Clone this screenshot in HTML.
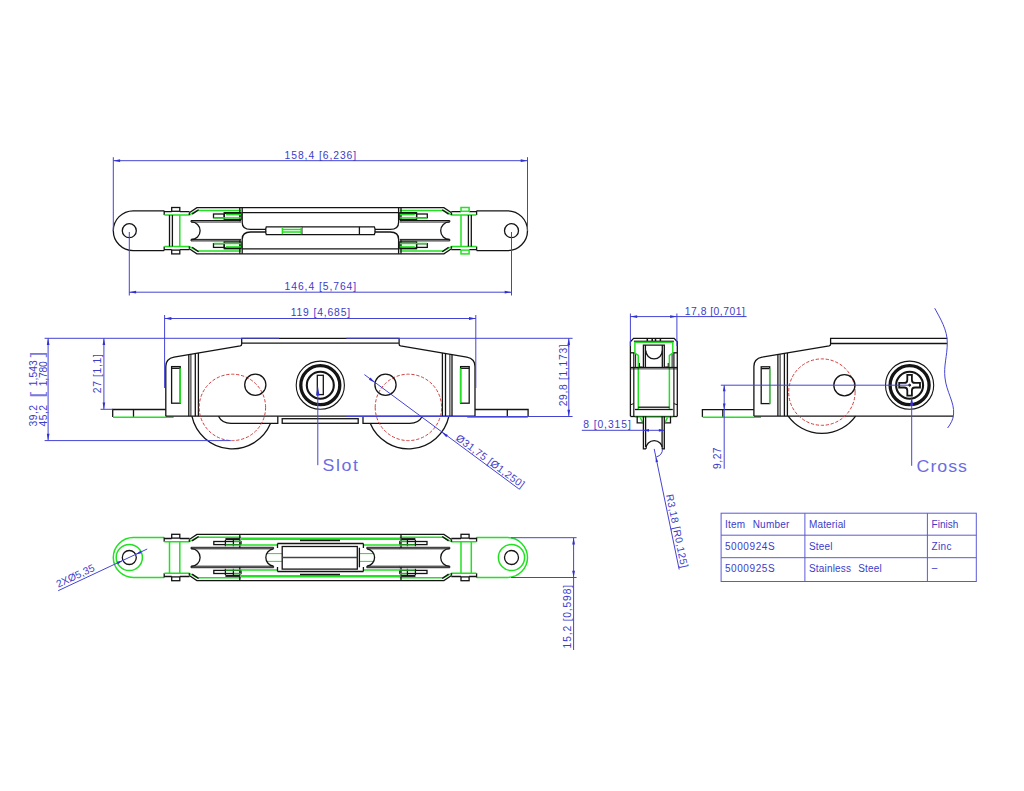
<!DOCTYPE html>
<html><head><meta charset="utf-8"><title>Drawing</title>
<style>
html,body{margin:0;padding:0;background:#fff;overflow:hidden;}
svg{display:block;}
text{font-family:"Liberation Sans",sans-serif;}
</style></head><body>
<svg width="1024" height="791" viewBox="0 0 1024 791">
<rect x="0" y="0" width="1024" height="791" fill="#ffffff"/>
<path d="M164.2,210.8 H133.2 A19.9,19.9 0 0 0 133.2,250.6 H164.2" stroke="#141414" stroke-width="1.3" fill="none" />
<circle cx="129.3" cy="230.7" r="7.0" stroke="#141414" stroke-width="1.3" fill="none" />
<path d="M164.2,210.8 V215.0 M164.2,211.7 H171.7 M179.8,211.7 H189.5" stroke="#141414" stroke-width="1.3" fill="none" />
<path d="M164.4,215.0 H189 L197.5,210.5 H241" stroke="#22e022" stroke-width="1.5" fill="none" />
<rect x="171.7" y="207.5" width="8.1" height="3.8" stroke="#141414" stroke-width="1.3" fill="none"/>
<path d="M189.3,212.7 L196.9,207.6 H321.00" stroke="#141414" stroke-width="1.3" fill="none" />
<path d="M192.2,214.1 L198.6,209.7" stroke="#141414" stroke-width="1.3" fill="none" />
<line x1="189.30" y1="212.70" x2="189.30" y2="215.00" stroke="#141414" stroke-width="1.3" />
<line x1="242.20" y1="212.60" x2="321.00" y2="212.60" stroke="#141414" stroke-width="1.3" />
<line x1="239.80" y1="207.60" x2="239.80" y2="221.20" stroke="#141414" stroke-width="1.3" />
<rect x="213.5" y="214.0" width="10.7" height="3.7" stroke="#141414" stroke-width="1.3" fill="none"/>
<rect x="224.2" y="212.7" width="16.8" height="6.7" stroke="#141414" stroke-width="1.3" fill="none"/>
<line x1="224.20" y1="213.20" x2="241.00" y2="213.20" stroke="#141414" stroke-width="1.8" />
<line x1="226.00" y1="214.50" x2="241.00" y2="214.50" stroke="#22e022" stroke-width="1.5" />
<line x1="213.80" y1="217.90" x2="241.00" y2="217.90" stroke="#22e022" stroke-width="1.5" />
<path d="M241.0,220.5 H191 V222.0 H241" stroke="#141414" stroke-width="1.0" fill="none" />
<path d="M164.2,250.6 V246.4 M164.2,249.7 H171.7 M179.8,249.7 H189.5" stroke="#141414" stroke-width="1.3" fill="none" />
<path d="M164.4,246.4 H189 L197.5,250.9 H241" stroke="#22e022" stroke-width="1.5" fill="none" />
<rect x="171.7" y="250.1" width="8.1" height="3.8" stroke="#141414" stroke-width="1.3" fill="none"/>
<path d="M189.3,248.7 L196.9,253.8 H321.00" stroke="#141414" stroke-width="1.3" fill="none" />
<path d="M192.2,247.3 L198.6,251.7" stroke="#141414" stroke-width="1.3" fill="none" />
<line x1="189.30" y1="248.70" x2="189.30" y2="246.40" stroke="#141414" stroke-width="1.3" />
<line x1="242.20" y1="248.80" x2="321.00" y2="248.80" stroke="#141414" stroke-width="1.3" />
<line x1="239.80" y1="253.80" x2="239.80" y2="240.20" stroke="#141414" stroke-width="1.3" />
<rect x="213.5" y="243.7" width="10.7" height="3.7" stroke="#141414" stroke-width="1.3" fill="none"/>
<rect x="224.2" y="242.0" width="16.8" height="6.7" stroke="#141414" stroke-width="1.3" fill="none"/>
<line x1="224.20" y1="248.20" x2="241.00" y2="248.20" stroke="#141414" stroke-width="1.8" />
<line x1="226.00" y1="246.90" x2="241.00" y2="246.90" stroke="#22e022" stroke-width="1.5" />
<line x1="213.80" y1="243.50" x2="241.00" y2="243.50" stroke="#22e022" stroke-width="1.5" />
<path d="M241.0,240.9 H191 V239.4 H241" stroke="#141414" stroke-width="1.0" fill="none" />
<line x1="169.50" y1="215.00" x2="169.50" y2="246.40" stroke="#141414" stroke-width="1.3" />
<line x1="172.40" y1="215.00" x2="172.40" y2="246.40" stroke="#141414" stroke-width="1.3" />
<line x1="179.80" y1="215.00" x2="179.80" y2="246.40" stroke="#22e022" stroke-width="1.5" />
<path d="M191.3,221.9 A8.8,8.8 0 0 1 191.3,239.5" stroke="#141414" stroke-width="1.3" fill="none" />
<g transform="translate(640.8,0) scale(-1,1)">
<path d="M164.2,210.8 H133.2 A19.9,19.9 0 0 0 133.2,250.6 H164.2" stroke="#141414" stroke-width="1.3" fill="none" />
<circle cx="129.3" cy="230.7" r="7.0" stroke="#141414" stroke-width="1.3" fill="none" />
<path d="M164.2,210.8 V215.0 M164.2,211.7 H171.7 M179.8,211.7 H189.5" stroke="#141414" stroke-width="1.3" fill="none" />
<path d="M164.4,215.0 H189 L197.5,210.5 H241" stroke="#22e022" stroke-width="1.5" fill="none" />
<rect x="171.7" y="207.5" width="8.1" height="3.8" stroke="#22e022" stroke-width="1.5" fill="none"/>
<path d="M189.3,212.7 L196.9,207.6 H319.80" stroke="#141414" stroke-width="1.3" fill="none" />
<path d="M192.2,214.1 L198.6,209.7" stroke="#141414" stroke-width="1.3" fill="none" />
<line x1="189.30" y1="212.70" x2="189.30" y2="215.00" stroke="#141414" stroke-width="1.3" />
<line x1="242.20" y1="212.60" x2="319.80" y2="212.60" stroke="#141414" stroke-width="1.3" />
<line x1="239.80" y1="207.60" x2="239.80" y2="221.20" stroke="#141414" stroke-width="1.3" />
<rect x="213.5" y="214.0" width="10.7" height="3.7" stroke="#141414" stroke-width="1.3" fill="none"/>
<rect x="224.2" y="212.7" width="16.8" height="6.7" stroke="#141414" stroke-width="1.3" fill="none"/>
<line x1="224.20" y1="213.20" x2="241.00" y2="213.20" stroke="#141414" stroke-width="1.8" />
<line x1="226.00" y1="214.50" x2="241.00" y2="214.50" stroke="#22e022" stroke-width="1.5" />
<line x1="213.80" y1="217.90" x2="241.00" y2="217.90" stroke="#22e022" stroke-width="1.5" />
<path d="M241.0,220.5 H191 V222.0 H241" stroke="#141414" stroke-width="1.0" fill="none" />
<path d="M164.2,250.6 V246.4 M164.2,249.7 H171.7 M179.8,249.7 H189.5" stroke="#141414" stroke-width="1.3" fill="none" />
<path d="M164.4,246.4 H189 L197.5,250.9 H241" stroke="#22e022" stroke-width="1.5" fill="none" />
<rect x="171.7" y="250.1" width="8.1" height="3.8" stroke="#22e022" stroke-width="1.5" fill="none"/>
<path d="M189.3,248.7 L196.9,253.8 H319.80" stroke="#141414" stroke-width="1.3" fill="none" />
<path d="M192.2,247.3 L198.6,251.7" stroke="#141414" stroke-width="1.3" fill="none" />
<line x1="189.30" y1="248.70" x2="189.30" y2="246.40" stroke="#141414" stroke-width="1.3" />
<line x1="242.20" y1="248.80" x2="319.80" y2="248.80" stroke="#141414" stroke-width="1.3" />
<line x1="239.80" y1="253.80" x2="239.80" y2="240.20" stroke="#141414" stroke-width="1.3" />
<rect x="213.5" y="243.7" width="10.7" height="3.7" stroke="#141414" stroke-width="1.3" fill="none"/>
<rect x="224.2" y="242.0" width="16.8" height="6.7" stroke="#141414" stroke-width="1.3" fill="none"/>
<line x1="224.20" y1="248.20" x2="241.00" y2="248.20" stroke="#141414" stroke-width="1.8" />
<line x1="226.00" y1="246.90" x2="241.00" y2="246.90" stroke="#22e022" stroke-width="1.5" />
<line x1="213.80" y1="243.50" x2="241.00" y2="243.50" stroke="#22e022" stroke-width="1.5" />
<path d="M241.0,240.9 H191 V239.4 H241" stroke="#141414" stroke-width="1.0" fill="none" />
<line x1="169.50" y1="215.00" x2="169.50" y2="246.40" stroke="#141414" stroke-width="1.3" />
<line x1="172.40" y1="215.00" x2="172.40" y2="246.40" stroke="#141414" stroke-width="1.3" />
<line x1="179.80" y1="215.00" x2="179.80" y2="246.40" stroke="#22e022" stroke-width="1.5" />
<path d="M191.3,221.9 A8.8,8.8 0 0 1 191.3,239.5" stroke="#141414" stroke-width="1.3" fill="none" />
</g>
<path d="M242.2,207.6 V222.2 Q242.2,229.4 250.5,229.4 H265.6 L266.3,226.8 H374.3 L375.2,229.4 H390.3 Q398.6,229.4 398.6,222.2 V207.6" stroke="#141414" stroke-width="1.3" fill="none" />
<path d="M242.2,253.8 V239.2 Q242.2,232.0 250.5,232.0 H265.6 L266.3,234.6 H374.3 L375.2,232.0 H390.3 Q398.6,232.0 398.6,239.2 V253.8" stroke="#141414" stroke-width="1.3" fill="none" />
<line x1="265.80" y1="229.40" x2="265.80" y2="232.00" stroke="#141414" stroke-width="1.3" />
<line x1="375.00" y1="229.40" x2="375.00" y2="232.00" stroke="#141414" stroke-width="1.3" />
<line x1="301.80" y1="226.80" x2="301.80" y2="234.60" stroke="#141414" stroke-width="1.3" />
<line x1="359.40" y1="226.80" x2="359.40" y2="234.60" stroke="#141414" stroke-width="1.3" />
<path d="M282.4,227.1 V234.3 M301.2,227.1 V234.3 M282.4,229.5 H301.2 M282.4,231.9 H301.2" stroke="#22e022" stroke-width="1.5" fill="none" />
<line x1="113.30" y1="157.20" x2="113.30" y2="231.00" stroke="#4444d4" stroke-width="1.0" />
<line x1="527.50" y1="157.20" x2="527.50" y2="231.00" stroke="#4444d4" stroke-width="1.0" />
<line x1="113.30" y1="160.70" x2="527.50" y2="160.70" stroke="#4444d4" stroke-width="1.0" />
<polygon points="113.3,160.7 120.1,159.3 120.1,162.0" fill="#3030d0"/>
<polygon points="527.5,160.7 520.7,162.0 520.7,159.3" fill="#3030d0"/>
<text transform="translate(284.6,158.8) rotate(0)" font-size="10.3" fill="#3c3cc8" text-anchor="start" textLength="71.5" lengthAdjust="spacing" >158,4 [6,236]</text>
<line x1="129.30" y1="232.00" x2="129.30" y2="295.50" stroke="#4444d4" stroke-width="1.0" />
<line x1="511.50" y1="232.00" x2="511.50" y2="295.50" stroke="#4444d4" stroke-width="1.0" />
<line x1="129.30" y1="292.20" x2="511.50" y2="292.20" stroke="#4444d4" stroke-width="1.0" />
<polygon points="129.3,292.2 136.1,290.8 136.1,293.6" fill="#3030d0"/>
<polygon points="511.5,292.2 504.7,293.6 504.7,290.8" fill="#3030d0"/>
<text transform="translate(284.6,289.7) rotate(0)" font-size="10.3" fill="#3c3cc8" text-anchor="start" textLength="71.5" lengthAdjust="spacing" >146,4 [5,764]</text>
<path d="M165.8,409.5 H112.7 V417 M133.5,409.5 V417" stroke="#141414" stroke-width="1.3" fill="none" />
<line x1="113.00" y1="417.20" x2="173.60" y2="417.20" stroke="#22e022" stroke-width="1.5" />
<path d="M165.8,416.2 V366.5 Q165.8,358.8 174,357.2 L240.3,345.9 Q241.7,345.5 241.7,344 V338.3 H321.00" stroke="#141414" stroke-width="1.3" fill="none" />
<line x1="242.00" y1="343.20" x2="321.00" y2="343.20" stroke="#141414" stroke-width="1.3" />
<rect x="171.6" y="366.6" width="8.6" height="36.6" stroke="#141414" stroke-width="1.3" fill="none"/>
<line x1="171.60" y1="368.30" x2="180.20" y2="368.30" stroke="#141414" stroke-width="1.3" />
<line x1="180.20" y1="368.30" x2="180.20" y2="403.20" stroke="#22e022" stroke-width="1.5" />
<line x1="188.80" y1="354.60" x2="188.80" y2="416.20" stroke="#141414" stroke-width="1.3" />
<line x1="190.90" y1="354.30" x2="190.90" y2="416.20" stroke="#141414" stroke-width="1.0" />
<line x1="195.30" y1="353.50" x2="195.30" y2="416.20" stroke="#141414" stroke-width="1.3" />
<line x1="198.40" y1="353.00" x2="198.40" y2="416.20" stroke="#141414" stroke-width="1.3" />
<line x1="165.80" y1="416.20" x2="321.00" y2="416.20" stroke="#141414" stroke-width="1.3" />
<path d="M218.5,416.2 Q222,423.3 231,423.3 H277.8 V416.2" stroke="#141414" stroke-width="1.3" fill="none" />
<path d="M191.9,416.2 A41.4,41.4 0 0 0 270.6,423.3" stroke="#141414" stroke-width="1.3" fill="none" />
<circle cx="232.4" cy="407.4" r="33.2" stroke="#d23c3c" stroke-width="1.0" fill="none" stroke-dasharray="3.2 1.8"/>
<circle cx="255.3" cy="384.8" r="10.6" stroke="#141414" stroke-width="1.3" fill="none" />
<g transform="translate(640.8,0) scale(-1,1)">
<path d="M165.8,409.5 H112.7 V417 M133.5,409.5 V417" stroke="#141414" stroke-width="1.3" fill="none" />
<line x1="113.00" y1="417.20" x2="173.60" y2="417.20" stroke="#22e022" stroke-width="1.5" />
<path d="M165.8,416.2 V366.5 Q165.8,358.8 174,357.2 L240.3,345.9 Q241.7,345.5 241.7,344 V338.3 H319.80" stroke="#141414" stroke-width="1.3" fill="none" />
<line x1="242.00" y1="343.20" x2="319.80" y2="343.20" stroke="#141414" stroke-width="1.3" />
<rect x="171.6" y="366.6" width="8.6" height="36.6" stroke="#141414" stroke-width="1.3" fill="none"/>
<line x1="171.60" y1="368.30" x2="180.20" y2="368.30" stroke="#141414" stroke-width="1.3" />
<line x1="180.20" y1="368.30" x2="180.20" y2="403.20" stroke="#22e022" stroke-width="1.5" />
<line x1="188.80" y1="354.60" x2="188.80" y2="416.20" stroke="#141414" stroke-width="1.3" />
<line x1="190.90" y1="354.30" x2="190.90" y2="416.20" stroke="#141414" stroke-width="1.0" />
<line x1="195.30" y1="353.50" x2="195.30" y2="416.20" stroke="#141414" stroke-width="1.3" />
<line x1="198.40" y1="353.00" x2="198.40" y2="416.20" stroke="#141414" stroke-width="1.3" />
<line x1="165.80" y1="416.20" x2="319.80" y2="416.20" stroke="#141414" stroke-width="1.3" />
<path d="M218.5,416.2 Q222,423.3 231,423.3 H277.8 V416.2" stroke="#141414" stroke-width="1.3" fill="none" />
<path d="M191.9,416.2 A41.4,41.4 0 0 0 270.6,423.3" stroke="#141414" stroke-width="1.3" fill="none" />
<circle cx="232.4" cy="407.4" r="33.2" stroke="#d23c3c" stroke-width="1.0" fill="none" stroke-dasharray="3.2 1.8"/>
<circle cx="255.3" cy="384.8" r="10.6" stroke="#141414" stroke-width="1.3" fill="none" />
</g>
<rect x="282.2" y="418.7" width="76.0" height="4.6" stroke="#141414" stroke-width="1.3" fill="none"/>
<circle cx="320.3" cy="385.2" r="24.1" stroke="#141414" stroke-width="1.1" fill="none" />
<circle cx="320.3" cy="385.2" r="19.5" stroke="#141414" stroke-width="3.3" fill="none" />
<circle cx="320.3" cy="385.2" r="13.5" stroke="#141414" stroke-width="2.1" fill="none" />
<rect x="317.3" y="375.3" width="6.0" height="19.3" stroke="#141414" stroke-width="1.3" fill="none"/>
<line x1="164.60" y1="315.00" x2="164.60" y2="388.00" stroke="#4444d4" stroke-width="1.0" />
<line x1="475.80" y1="315.00" x2="475.80" y2="388.00" stroke="#4444d4" stroke-width="1.0" />
<line x1="164.60" y1="318.50" x2="475.80" y2="318.50" stroke="#4444d4" stroke-width="1.0" />
<polygon points="164.6,318.5 171.4,317.1 171.4,319.9" fill="#3030d0"/>
<polygon points="475.8,318.5 469.0,319.9 469.0,317.1" fill="#3030d0"/>
<text transform="translate(290.7,316.4) rotate(0)" font-size="10.3" fill="#3c3cc8" text-anchor="start" textLength="59.5" lengthAdjust="spacing" >119 [4,685]</text>
<line x1="44.60" y1="338.30" x2="279.00" y2="338.30" stroke="#4444d4" stroke-width="1.0" />
<line x1="44.60" y1="440.60" x2="230.80" y2="440.60" stroke="#4444d4" stroke-width="1.0" />
<line x1="48.10" y1="338.30" x2="48.10" y2="440.60" stroke="#4444d4" stroke-width="1.0" />
<polygon points="48.1,338.3 49.5,345.1 46.8,345.1" fill="#3030d0"/>
<polygon points="48.1,440.6 46.8,433.8 49.5,433.8" fill="#3030d0"/>
<line x1="103.90" y1="338.30" x2="103.90" y2="409.30" stroke="#4444d4" stroke-width="1.0" />
<polygon points="103.9,338.3 105.2,345.1 102.6,345.1" fill="#3030d0"/>
<polygon points="103.9,409.3 102.6,402.5 105.2,402.5" fill="#3030d0"/>
<line x1="100.50" y1="409.30" x2="112.70" y2="409.30" stroke="#4444d4" stroke-width="1.0" />
<text transform="translate(100.9,393.2) rotate(-90)" font-size="10.3" fill="#3c3cc8" text-anchor="start" textLength="39.0" lengthAdjust="spacing" >27 [1,1]</text>
<text transform="translate(36.9,426.4) rotate(-90)" font-size="10.3" fill="#3c3cc8" text-anchor="start" textLength="21.3" lengthAdjust="spacing" >39,2</text>
<text transform="translate(46.9,426.4) rotate(-90)" font-size="10.3" fill="#3c3cc8" text-anchor="start" textLength="21.3" lengthAdjust="spacing" >45,2</text>
<text transform="translate(36.9,386.2) rotate(-90)" font-size="10.3" fill="#3c3cc8" text-anchor="start" textLength="26.0" lengthAdjust="spacing" >1,543</text>
<text transform="translate(46.9,386.2) rotate(-90)" font-size="10.3" fill="#3c3cc8" text-anchor="start" textLength="25.0" lengthAdjust="spacing" >1,780</text>
<text transform="translate(43.4,397.8) rotate(-90) scale(1.2,1)" font-size="18" fill="#7878e0">[</text>
<text transform="translate(43.4,357.6) rotate(-90) scale(1.2,1)" font-size="18" fill="#7878e0">]</text>
<line x1="346.30" y1="338.30" x2="572.60" y2="338.30" stroke="#4444d4" stroke-width="1.0" />
<line x1="346.30" y1="416.50" x2="572.60" y2="416.50" stroke="#4444d4" stroke-width="1.0" />
<line x1="568.80" y1="338.30" x2="568.80" y2="416.50" stroke="#4444d4" stroke-width="1.0" />
<polygon points="568.8,338.3 570.1,345.1 567.4,345.1" fill="#3030d0"/>
<polygon points="568.8,416.5 567.4,409.7 570.1,409.7" fill="#3030d0"/>
<text transform="translate(566.8,406.3) rotate(-90)" font-size="10.3" fill="#3c3cc8" text-anchor="start" textLength="62.0" lengthAdjust="spacing" >29,8 [1,173]</text>
<line x1="317.80" y1="392.00" x2="317.80" y2="465.20" stroke="#4444d4" stroke-width="1.0" />
<polygon points="317.8,385.6 319.5,395.6 316.1,395.6" fill="#3030d0"/>
<text transform="translate(322.6,470.8) scale(1.14,1)" font-size="15.6" fill="#6c6ce2" textLength="31.1" lengthAdjust="spacing">Slot</text>
<line x1="364.40" y1="374.60" x2="518.20" y2="488.40" stroke="#4444d4" stroke-width="1.0" />
<polygon points="375.1,382.8 368.9,379.8 370.5,377.6" fill="#3030d0"/>
<polygon points="441.7,432.0 447.9,435.0 446.3,437.2" fill="#3030d0"/>
<text transform="translate(454.9,439.4) rotate(36.5)" font-size="10.3" fill="#3c3cc8" text-anchor="start" textLength="82.5" lengthAdjust="spacing" >Ø31,75 [Ø1,250]</text>
<path d="M654.00,338.3 H633.6 L630.4,341.7 V416.2" stroke="#141414" stroke-width="1.3" fill="none" />
<path d="M647.3,338.3 V341.4 M652.2,338.3 V341.4" stroke="#141414" stroke-width="1.5" fill="none" />
<line x1="633.90" y1="341.40" x2="654.00" y2="341.40" stroke="#141414" stroke-width="1.5" />
<line x1="633.80" y1="353.00" x2="633.80" y2="416.20" stroke="#141414" stroke-width="1.2" />
<line x1="635.60" y1="353.00" x2="635.60" y2="367.40" stroke="#141414" stroke-width="1.0" />
<path d="M630.4,352.8 H635 " stroke="#141414" stroke-width="1.3" fill="none" />
<path d="M630.4,404.8 L633.8,403.6" stroke="#141414" stroke-width="1.0" fill="none" />
<path d="M654.00,342.2 H634.9 V353 L638.3,355.4 V409" stroke="#22e022" stroke-width="1.5" fill="none" />
<path d="M639.5,363 V367 H642.5" stroke="#141414" stroke-width="1.0" fill="none" />
<path d="M654.00,345.1 H643.4 V367.4 M645.4,345.1 V367.4" stroke="#141414" stroke-width="1.3" fill="none" />
<line x1="630.40" y1="367.50" x2="654.00" y2="367.50" stroke="#141414" stroke-width="1.3" />
<line x1="630.40" y1="368.90" x2="654.00" y2="368.90" stroke="#141414" stroke-width="0.8" />
<line x1="638.30" y1="407.20" x2="654.00" y2="407.20" stroke="#141414" stroke-width="1.3" />
<line x1="634.90" y1="409.50" x2="654.00" y2="409.50" stroke="#141414" stroke-width="1.3" />
<line x1="630.40" y1="416.50" x2="654.00" y2="416.50" stroke="#141414" stroke-width="1.3" />
<line x1="634.90" y1="417.10" x2="654.00" y2="417.10" stroke="#22e022" stroke-width="1.0" />
<path d="M637.2,416.2 V422.8 H643.4" stroke="#141414" stroke-width="1.3" fill="none" />
<line x1="640.20" y1="417.50" x2="642.60" y2="422.30" stroke="#22e022" stroke-width="1.5" />
<path d="M643.4,416.2 V448.9 H646 M645.6,416.2 V447" stroke="#141414" stroke-width="1.3" fill="none" />
<g transform="translate(1307.70,0) scale(-1,1)">
<path d="M653.70,338.3 H633.6 L630.4,341.7 V416.2" stroke="#141414" stroke-width="1.3" fill="none" />
<path d="M647.3,338.3 V341.4 M652.2,338.3 V341.4" stroke="#141414" stroke-width="1.5" fill="none" />
<line x1="633.90" y1="341.40" x2="653.70" y2="341.40" stroke="#141414" stroke-width="1.5" />
<line x1="633.80" y1="353.00" x2="633.80" y2="416.20" stroke="#141414" stroke-width="1.2" />
<line x1="635.60" y1="353.00" x2="635.60" y2="367.40" stroke="#141414" stroke-width="1.0" />
<path d="M630.4,352.8 H635 " stroke="#141414" stroke-width="1.3" fill="none" />
<path d="M630.4,404.8 L633.8,403.6" stroke="#141414" stroke-width="1.0" fill="none" />
<path d="M653.70,342.2 H634.9 V353 L638.3,355.4 V409" stroke="#22e022" stroke-width="1.5" fill="none" />
<path d="M639.5,363 V367 H642.5" stroke="#141414" stroke-width="1.0" fill="none" />
<path d="M653.70,345.1 H643.4 V367.4 M645.4,345.1 V367.4" stroke="#141414" stroke-width="1.3" fill="none" />
<line x1="630.40" y1="367.50" x2="653.70" y2="367.50" stroke="#141414" stroke-width="1.3" />
<line x1="630.40" y1="368.90" x2="653.70" y2="368.90" stroke="#141414" stroke-width="0.8" />
<line x1="638.30" y1="407.20" x2="653.70" y2="407.20" stroke="#141414" stroke-width="1.3" />
<line x1="634.90" y1="409.50" x2="653.70" y2="409.50" stroke="#141414" stroke-width="1.3" />
<line x1="630.40" y1="416.50" x2="653.70" y2="416.50" stroke="#141414" stroke-width="1.3" />
<line x1="634.90" y1="417.10" x2="653.70" y2="417.10" stroke="#22e022" stroke-width="1.0" />
<path d="M637.2,416.2 V422.8 H643.4" stroke="#141414" stroke-width="1.3" fill="none" />
<line x1="640.20" y1="417.50" x2="642.60" y2="422.30" stroke="#22e022" stroke-width="1.5" />
<path d="M643.4,416.2 V448.9 H646 M645.6,416.2 V447" stroke="#141414" stroke-width="1.3" fill="none" />
</g>
<path d="M645.8,350.6 A8.3,8.3 0 0 0 662.4,350.6" stroke="#141414" stroke-width="1.3" fill="none" />
<path d="M645.9,448.9 A8.3,8.3 0 0 1 662.5,448.9" stroke="#141414" stroke-width="1.3" fill="none" />
<line x1="630.40" y1="313.50" x2="630.40" y2="346.00" stroke="#4444d4" stroke-width="1.0" />
<line x1="676.90" y1="313.50" x2="676.90" y2="346.00" stroke="#4444d4" stroke-width="1.0" />
<line x1="630.40" y1="316.60" x2="746.60" y2="316.60" stroke="#4444d4" stroke-width="1.0" />
<polygon points="630.4,316.6 637.2,315.2 637.2,318.0" fill="#3030d0"/>
<polygon points="676.9,316.6 670.1,318.0 670.1,315.2" fill="#3030d0"/>
<text transform="translate(684.8,314.7) rotate(0)" font-size="10.3" fill="#3c3cc8" text-anchor="start" textLength="60.0" lengthAdjust="spacing" >17,8 [0,701]</text>
<line x1="581.80" y1="430.30" x2="664.40" y2="430.30" stroke="#4444d4" stroke-width="1.0" />
<polygon points="643.5,430.3 649.0,428.9 649.0,431.7" fill="#3030d0"/>
<polygon points="664.4,430.3 658.9,431.7 658.9,428.9" fill="#3030d0"/>
<text transform="translate(583.2,428.4) rotate(0)" font-size="10.3" fill="#3c3cc8" text-anchor="start" textLength="47.6" lengthAdjust="spacing" >8 [0,315]</text>
<line x1="654.20" y1="448.90" x2="679.20" y2="569.50" stroke="#4444d4" stroke-width="1.0" />
<path d="M662.5,448.9 A8.3,8.3 0 0 1 656.3,456.9" stroke="#4444d4" stroke-width="1.0" fill="none" />
<polygon points="655.9,457.0 658.2,461.7 655.6,462.2" fill="#3030d0"/>
<text transform="translate(666.0,494.9) rotate(78.3)" font-size="10.3" fill="#3c3cc8" text-anchor="start" textLength="75.0" lengthAdjust="spacing" >R3,18 [R0,125]</text>
<path d="M753.9,409.6 H702.4 V416.9 M722.8,409.6 V416.9" stroke="#141414" stroke-width="1.3" fill="none" />
<line x1="702.60" y1="417.20" x2="761.00" y2="417.20" stroke="#22e022" stroke-width="1.5" />
<path d="M753.9,416.1 V366.5 Q753.9,358.8 762.1,357.2 L829.2,345.9 Q830.6,345.5 830.6,344 V338.3 H947.3" stroke="#141414" stroke-width="1.3" fill="none" />
<line x1="831.00" y1="343.50" x2="947.00" y2="343.50" stroke="#141414" stroke-width="1.3" />
<line x1="753.90" y1="416.10" x2="953.40" y2="416.10" stroke="#141414" stroke-width="1.3" />
<rect x="761.2" y="366.8" width="8.5" height="36.8" stroke="#141414" stroke-width="1.3" fill="none"/>
<line x1="761.20" y1="368.60" x2="769.70" y2="368.60" stroke="#141414" stroke-width="1.3" />
<line x1="769.70" y1="368.60" x2="769.70" y2="403.60" stroke="#22e022" stroke-width="1.5" />
<line x1="777.90" y1="354.60" x2="777.90" y2="416.10" stroke="#141414" stroke-width="1.3" />
<line x1="780.10" y1="354.30" x2="780.10" y2="416.10" stroke="#141414" stroke-width="1.0" />
<line x1="784.40" y1="353.50" x2="784.40" y2="416.10" stroke="#141414" stroke-width="1.3" />
<line x1="787.40" y1="353.00" x2="787.40" y2="416.10" stroke="#141414" stroke-width="1.3" />
<path d="M788.2,416.1 A41.4,41.4 0 0 0 855.6,416.1" stroke="#141414" stroke-width="1.3" fill="none" />
<circle cx="821.9" cy="392.1" r="33.2" stroke="#d23c3c" stroke-width="1.0" fill="none" stroke-dasharray="3.2 1.8"/>
<circle cx="844.4" cy="385.2" r="10.6" stroke="#141414" stroke-width="1.3" fill="none" />
<circle cx="909.6" cy="385.2" r="24.1" stroke="#141414" stroke-width="1.1" fill="none" />
<circle cx="909.6" cy="385.2" r="19.5" stroke="#141414" stroke-width="3.3" fill="none" />
<circle cx="909.6" cy="385.2" r="13.5" stroke="#141414" stroke-width="2.1" fill="none" />
<path d="M907.3000000000001,374.8 H911.9 V379.9 Q911.9,382.9 914.9,382.9 H920.0 V387.5 H914.9 Q911.9,387.5 911.9,390.5 V395.59999999999997 H907.3000000000001 V390.5 Q907.3000000000001,387.5 904.3000000000001,387.5 H899.2 V382.9 H904.3000000000001 Q907.3000000000001,382.9 907.3000000000001,379.9 Z" stroke="#141414" stroke-width="1.8" fill="none" />
<circle cx="909.6" cy="385.2" r="1.0" stroke="#141414" stroke-width="1.0" fill="#141414" />
<path d="M934.7,308.2 C940,318 947.5,330 947.3,343 C947.2,356 943.5,366 945,378 C946.5,392 954.5,402 953.6,414 C953.2,420 950.5,424 947.6,428" stroke="#4444d4" stroke-width="1.0" fill="none" />
<line x1="720.80" y1="385.20" x2="909.60" y2="385.20" stroke="#4444d4" stroke-width="1.0" />
<line x1="724.20" y1="385.20" x2="724.20" y2="468.80" stroke="#4444d4" stroke-width="1.0" />
<polygon points="724.2,385.2 725.6,391.2 722.9,391.2" fill="#3030d0"/>
<polygon points="724.2,409.6 722.9,403.6 725.6,403.6" fill="#3030d0"/>
<text transform="translate(721.4,468.9) rotate(-90)" font-size="10.3" fill="#3c3cc8" text-anchor="start" textLength="21.5" lengthAdjust="spacing" >9,27</text>
<line x1="911.70" y1="404.00" x2="911.70" y2="465.80" stroke="#4444d4" stroke-width="1.0" />
<polygon points="911.7,396.6 913.4,406.1 910.0,406.1" fill="#3030d0"/>
<text transform="translate(916.6,471.6) scale(1.14,1)" font-size="15.6" fill="#6c6ce2" textLength="44.2" lengthAdjust="spacing">Cross</text>
<path d="M164.2,537.6 H133.2 A19.9,19.9 0 0 0 133.2,577.4 H164.2" stroke="#22e022" stroke-width="1.5" fill="none" />
<circle cx="129.3" cy="557.5" r="7.0" stroke="#141414" stroke-width="1.3" fill="none" />
<circle cx="129.3" cy="557.5" r="13.1" stroke="#22e022" stroke-width="1.5" fill="none" />
<path d="M164.2,537.6 V541.8 M164.2,538.5 H171.7 M179.8,538.5 H189.5" stroke="#141414" stroke-width="1.3" fill="none" />
<path d="M164.4,541.8 H189 L197.5,537.3 H241" stroke="#22e022" stroke-width="1.5" fill="none" />
<rect x="171.7" y="534.3" width="8.1" height="3.8" stroke="#141414" stroke-width="1.3" fill="none"/>
<path d="M189.3,539.5 L196.9,534.4 H321.00" stroke="#141414" stroke-width="1.3" fill="none" />
<path d="M192.2,540.9 L198.6,536.5" stroke="#141414" stroke-width="1.3" fill="none" />
<line x1="189.30" y1="539.50" x2="189.30" y2="541.80" stroke="#141414" stroke-width="1.3" />
<line x1="242.20" y1="539.40" x2="321.00" y2="539.40" stroke="#141414" stroke-width="1.3" />
<line x1="239.80" y1="534.40" x2="239.80" y2="548.00" stroke="#141414" stroke-width="1.3" />
<rect x="213.8" y="541.5" width="27.2" height="3.1" stroke="#141414" stroke-width="1.3" fill="none"/>
<line x1="225.40" y1="539.90" x2="225.40" y2="546.20" stroke="#141414" stroke-width="1.3" />
<line x1="233.40" y1="539.90" x2="233.40" y2="546.20" stroke="#141414" stroke-width="1.3" />
<line x1="225.40" y1="539.10" x2="239.50" y2="539.10" stroke="#141414" stroke-width="2.0" />
<line x1="225.60" y1="545.00" x2="241.00" y2="545.00" stroke="#22e022" stroke-width="1.2" />
<line x1="241.00" y1="541.20" x2="234.00" y2="541.20" stroke="#22e022" stroke-width="1.2" />
<path d="M241.0,547.3 H191 V548.8 H241" stroke="#141414" stroke-width="1.0" fill="none" />
<path d="M164.2,577.4 V573.2 M164.2,576.5 H171.7 M179.8,576.5 H189.5" stroke="#141414" stroke-width="1.3" fill="none" />
<path d="M164.4,573.2 H189 L197.5,577.7 H241" stroke="#22e022" stroke-width="1.5" fill="none" />
<rect x="171.7" y="576.9" width="8.1" height="3.8" stroke="#141414" stroke-width="1.3" fill="none"/>
<path d="M189.3,575.5 L196.9,580.6 H321.00" stroke="#141414" stroke-width="1.3" fill="none" />
<path d="M192.2,574.1 L198.6,578.5" stroke="#141414" stroke-width="1.3" fill="none" />
<line x1="189.30" y1="575.50" x2="189.30" y2="573.20" stroke="#141414" stroke-width="1.3" />
<line x1="242.20" y1="575.60" x2="321.00" y2="575.60" stroke="#141414" stroke-width="1.3" />
<line x1="239.80" y1="580.60" x2="239.80" y2="567.00" stroke="#141414" stroke-width="1.3" />
<rect x="213.8" y="570.4" width="27.2" height="3.1" stroke="#141414" stroke-width="1.3" fill="none"/>
<line x1="225.40" y1="575.10" x2="225.40" y2="568.80" stroke="#141414" stroke-width="1.3" />
<line x1="233.40" y1="575.10" x2="233.40" y2="568.80" stroke="#141414" stroke-width="1.3" />
<line x1="225.40" y1="575.90" x2="239.50" y2="575.90" stroke="#141414" stroke-width="2.0" />
<line x1="225.60" y1="570.00" x2="241.00" y2="570.00" stroke="#22e022" stroke-width="1.2" />
<line x1="241.00" y1="573.80" x2="234.00" y2="573.80" stroke="#22e022" stroke-width="1.2" />
<path d="M241.0,567.7 H191 V566.2 H241" stroke="#141414" stroke-width="1.0" fill="none" />
<line x1="169.50" y1="541.80" x2="169.50" y2="573.20" stroke="#22e022" stroke-width="1.5" />
<line x1="179.80" y1="541.80" x2="179.80" y2="573.20" stroke="#22e022" stroke-width="1.5" />
<path d="M191.3,548.7 A8.8,8.8 0 0 1 191.3,566.3" stroke="#141414" stroke-width="1.3" fill="none" />
<g transform="translate(640.8,0) scale(-1,1)">
<path d="M164.2,537.6 H133.2 A19.9,19.9 0 0 0 133.2,577.4 H164.2" stroke="#22e022" stroke-width="1.5" fill="none" />
<circle cx="129.3" cy="557.5" r="7.0" stroke="#141414" stroke-width="1.3" fill="none" />
<circle cx="129.3" cy="557.5" r="13.1" stroke="#22e022" stroke-width="1.5" fill="none" />
<path d="M164.2,537.6 V541.8 M164.2,538.5 H171.7 M179.8,538.5 H189.5" stroke="#141414" stroke-width="1.3" fill="none" />
<path d="M164.4,541.8 H189 L197.5,537.3 H241" stroke="#22e022" stroke-width="1.5" fill="none" />
<rect x="171.7" y="534.3" width="8.1" height="3.8" stroke="#141414" stroke-width="1.3" fill="none"/>
<path d="M189.3,539.5 L196.9,534.4 H319.80" stroke="#141414" stroke-width="1.3" fill="none" />
<path d="M192.2,540.9 L198.6,536.5" stroke="#141414" stroke-width="1.3" fill="none" />
<line x1="189.30" y1="539.50" x2="189.30" y2="541.80" stroke="#141414" stroke-width="1.3" />
<line x1="242.20" y1="539.40" x2="319.80" y2="539.40" stroke="#141414" stroke-width="1.3" />
<line x1="239.80" y1="534.40" x2="239.80" y2="548.00" stroke="#141414" stroke-width="1.3" />
<rect x="213.8" y="541.5" width="27.2" height="3.1" stroke="#141414" stroke-width="1.3" fill="none"/>
<line x1="225.40" y1="539.90" x2="225.40" y2="546.20" stroke="#141414" stroke-width="1.3" />
<line x1="233.40" y1="539.90" x2="233.40" y2="546.20" stroke="#141414" stroke-width="1.3" />
<line x1="225.40" y1="539.10" x2="239.50" y2="539.10" stroke="#141414" stroke-width="2.0" />
<line x1="225.60" y1="545.00" x2="241.00" y2="545.00" stroke="#22e022" stroke-width="1.2" />
<line x1="241.00" y1="541.20" x2="234.00" y2="541.20" stroke="#22e022" stroke-width="1.2" />
<path d="M241.0,547.3 H191 V548.8 H241" stroke="#141414" stroke-width="1.0" fill="none" />
<path d="M164.2,577.4 V573.2 M164.2,576.5 H171.7 M179.8,576.5 H189.5" stroke="#141414" stroke-width="1.3" fill="none" />
<path d="M164.4,573.2 H189 L197.5,577.7 H241" stroke="#22e022" stroke-width="1.5" fill="none" />
<rect x="171.7" y="576.9" width="8.1" height="3.8" stroke="#141414" stroke-width="1.3" fill="none"/>
<path d="M189.3,575.5 L196.9,580.6 H319.80" stroke="#141414" stroke-width="1.3" fill="none" />
<path d="M192.2,574.1 L198.6,578.5" stroke="#141414" stroke-width="1.3" fill="none" />
<line x1="189.30" y1="575.50" x2="189.30" y2="573.20" stroke="#141414" stroke-width="1.3" />
<line x1="242.20" y1="575.60" x2="319.80" y2="575.60" stroke="#141414" stroke-width="1.3" />
<line x1="239.80" y1="580.60" x2="239.80" y2="567.00" stroke="#141414" stroke-width="1.3" />
<rect x="213.8" y="570.4" width="27.2" height="3.1" stroke="#141414" stroke-width="1.3" fill="none"/>
<line x1="225.40" y1="575.10" x2="225.40" y2="568.80" stroke="#141414" stroke-width="1.3" />
<line x1="233.40" y1="575.10" x2="233.40" y2="568.80" stroke="#141414" stroke-width="1.3" />
<line x1="225.40" y1="575.90" x2="239.50" y2="575.90" stroke="#141414" stroke-width="2.0" />
<line x1="225.60" y1="570.00" x2="241.00" y2="570.00" stroke="#22e022" stroke-width="1.2" />
<line x1="241.00" y1="573.80" x2="234.00" y2="573.80" stroke="#22e022" stroke-width="1.2" />
<path d="M241.0,567.7 H191 V566.2 H241" stroke="#141414" stroke-width="1.0" fill="none" />
<line x1="169.50" y1="541.80" x2="169.50" y2="573.20" stroke="#22e022" stroke-width="1.5" />
<line x1="179.80" y1="541.80" x2="179.80" y2="573.20" stroke="#22e022" stroke-width="1.5" />
<path d="M191.3,548.7 A8.8,8.8 0 0 1 191.3,566.3" stroke="#141414" stroke-width="1.3" fill="none" />
</g>
<line x1="241.00" y1="538.80" x2="400.00" y2="538.80" stroke="#22e022" stroke-width="2.6" />
<line x1="300.00" y1="540.50" x2="340.00" y2="540.50" stroke="#141414" stroke-width="1.3" />
<line x1="241.00" y1="544.90" x2="277.50" y2="544.90" stroke="#22e022" stroke-width="1.5" />
<line x1="363.40" y1="544.90" x2="400.00" y2="544.90" stroke="#22e022" stroke-width="1.5" />
<line x1="266.50" y1="553.60" x2="282.20" y2="553.60" stroke="#22e022" stroke-width="1.0" />
<line x1="359.00" y1="553.60" x2="374.00" y2="553.60" stroke="#22e022" stroke-width="1.0" />
<line x1="277.50" y1="543.50" x2="363.40" y2="543.50" stroke="#141414" stroke-width="1.3" />
<path d="M241,547.3 H273.6 V548.8 H241" stroke="#141414" stroke-width="1.0" fill="none" />
<path d="M400,547.3 H366.8 V548.8 H400" stroke="#141414" stroke-width="1.0" fill="none" />
<line x1="241.00" y1="576.20" x2="400.00" y2="576.20" stroke="#22e022" stroke-width="2.6" />
<line x1="300.00" y1="574.50" x2="340.00" y2="574.50" stroke="#141414" stroke-width="1.3" />
<line x1="241.00" y1="570.10" x2="277.50" y2="570.10" stroke="#22e022" stroke-width="1.5" />
<line x1="363.40" y1="570.10" x2="400.00" y2="570.10" stroke="#22e022" stroke-width="1.5" />
<line x1="266.50" y1="561.40" x2="282.20" y2="561.40" stroke="#22e022" stroke-width="1.0" />
<line x1="359.00" y1="561.40" x2="374.00" y2="561.40" stroke="#22e022" stroke-width="1.0" />
<line x1="277.50" y1="571.50" x2="363.40" y2="571.50" stroke="#141414" stroke-width="1.3" />
<path d="M241,567.7 H273.6 V566.2 H241" stroke="#141414" stroke-width="1.0" fill="none" />
<path d="M400,567.7 H366.8 V566.2 H400" stroke="#141414" stroke-width="1.0" fill="none" />
<rect x="282.2" y="546.5" width="75.1" height="22.6" stroke="#141414" stroke-width="1.3" fill="none"/>
<line x1="282.20" y1="557.50" x2="357.30" y2="557.50" stroke="#444" stroke-width="1.5" />
<line x1="277.50" y1="543.50" x2="277.50" y2="548.00" stroke="#141414" stroke-width="1.3" />
<line x1="277.50" y1="571.50" x2="277.50" y2="567.00" stroke="#141414" stroke-width="1.3" />
<line x1="363.40" y1="543.50" x2="363.40" y2="548.00" stroke="#141414" stroke-width="1.3" />
<line x1="363.40" y1="571.50" x2="363.40" y2="567.00" stroke="#141414" stroke-width="1.3" />
<line x1="359.40" y1="547.70" x2="359.40" y2="567.30" stroke="#141414" stroke-width="1.3" />
<path d="M273.3,548.8 A8.8,8.8 0 0 0 273.3,566.2" stroke="#141414" stroke-width="1.3" fill="none" />
<path d="M367.1,548.8 A8.8,8.8 0 0 1 367.1,566.2" stroke="#141414" stroke-width="1.3" fill="none" />
<line x1="511.00" y1="537.70" x2="576.60" y2="537.70" stroke="#4444d4" stroke-width="1.0" />
<line x1="511.00" y1="577.50" x2="576.60" y2="577.50" stroke="#4444d4" stroke-width="1.0" />
<line x1="573.60" y1="537.70" x2="573.60" y2="650.00" stroke="#4444d4" stroke-width="1.0" />
<polygon points="573.6,537.7 575.0,544.5 572.2,544.5" fill="#3030d0"/>
<polygon points="573.6,577.5 572.2,570.7 575.0,570.7" fill="#3030d0"/>
<text transform="translate(571.0,648.4) rotate(-90)" font-size="10.3" fill="#3c3cc8" text-anchor="start" textLength="63.5" lengthAdjust="spacing" >15,2 [0,598]</text>
<line x1="58.20" y1="590.70" x2="147.20" y2="549.00" stroke="#4444d4" stroke-width="1.0" />
<polygon points="122.9,560.5 118.0,564.2 116.9,561.8" fill="#3030d0"/>
<polygon points="135.5,554.5 140.4,550.8 141.5,553.2" fill="#3030d0"/>
<text transform="translate(58.2,587.7) rotate(-25.1)" font-size="10.3" fill="#3c3cc8" text-anchor="start" textLength="41.0" lengthAdjust="spacing" >2XØ5,35</text>
<rect x="721.1" y="513.2" width="255.2" height="68.3" stroke="#5a5ad6" stroke-width="1.0" fill="none"/>
<line x1="721.10" y1="535.20" x2="976.30" y2="535.20" stroke="#5a5ad6" stroke-width="1.0" />
<line x1="721.10" y1="557.70" x2="976.30" y2="557.70" stroke="#5a5ad6" stroke-width="1.0" />
<line x1="804.90" y1="513.20" x2="804.90" y2="581.50" stroke="#5a5ad6" stroke-width="1.0" />
<line x1="927.40" y1="513.20" x2="927.40" y2="581.50" stroke="#5a5ad6" stroke-width="1.0" />
<text transform="translate(724.9,527.7) rotate(0)" font-size="10" fill="#3c3cc8" text-anchor="start" textLength="64.5" lengthAdjust="spacing" word-spacing="4.4">Item Number</text>
<text transform="translate(809.0,527.7) rotate(0)" font-size="10" fill="#3c3cc8" text-anchor="start" textLength="36.6" lengthAdjust="spacing" >Material</text>
<text transform="translate(931.5,527.7) rotate(0)" font-size="10" fill="#3c3cc8" text-anchor="start" textLength="26.9" lengthAdjust="spacing" >Finish</text>
<text transform="translate(724.9,549.8) rotate(0)" font-size="10" fill="#3c3cc8" text-anchor="start" textLength="49.8" lengthAdjust="spacing" >5000924S</text>
<text transform="translate(809.0,549.8) rotate(0)" font-size="10" fill="#3c3cc8" text-anchor="start" textLength="23.4" lengthAdjust="spacing" >Steel</text>
<text transform="translate(931.5,549.8) rotate(0)" font-size="10" fill="#3c3cc8" text-anchor="start" textLength="19.9" lengthAdjust="spacing" >Zinc</text>
<text transform="translate(724.9,572.3) rotate(0)" font-size="10" fill="#3c3cc8" text-anchor="start" textLength="49.8" lengthAdjust="spacing" >5000925S</text>
<text transform="translate(809.0,572.3) rotate(0)" font-size="10" fill="#3c3cc8" text-anchor="start" textLength="72.7" lengthAdjust="spacing" word-spacing="4.1">Stainless Steel</text>
<text transform="translate(931.8,571.3) rotate(0)" font-size="10" fill="#3c3cc8" text-anchor="start" >–</text>
</svg>
</body></html>
